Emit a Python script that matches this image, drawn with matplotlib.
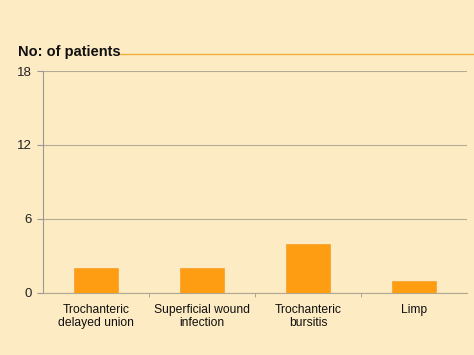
import matplotlib.pyplot as plt
from matplotlib.lines import Line2D

categories = ["Trochanteric\ndelayed union", "Superficial wound\ninfection",
              "Trochanteric\nbursitis", "Limp"]
patients = [2, 2, 4, 1]
yticks = [0, 6, 12, 18]

plt.rcParams['font.family'] = ['Liberation Sans', 'DejaVu Sans']

bg = '#fdebc3'
fig = plt.figure(figsize=(4.74, 3.55), dpi=100, facecolor=bg)
ax = fig.add_axes([0.091, 0.175, 0.894, 0.625], facecolor=bg)

x = range(len(categories))
ax.bar(x, patients, width=0.41, color='#ff9d12', edgecolor='#f7a535', linewidth=0.6, zorder=3)

ax.set_ylim(0, 18)
ax.set_xlim(-0.5, len(categories) - 0.5)
ax.set_yticks(yticks)
ax.set_yticklabels([str(v) for v in yticks], fontsize=9.5, color='#222222')
ax.set_xticks(list(x))
ax.set_xticklabels(categories, fontsize=8.7, color='#111111', linespacing=1.15)
ax.tick_params(axis='x', length=0, pad=8)
ax.tick_params(axis='y', length=4, color='#999999', pad=4)
# minor ticks between categories on the bottom axis
ax.set_xticks([i + 0.5 for i in range(len(categories) - 1)], minor=True)
ax.tick_params(axis='x', which='minor', length=3, color='#999999', direction='out')

ax.grid(axis='y', color='#b5ab96', linewidth=0.8, zorder=0)
for s in ['top', 'right']:
    ax.spines[s].set_visible(False)
ax.spines['left'].set_color('#999999')
ax.spines['bottom'].set_color('#b0a890')

fig.text(18 / 474, 1 - 52 / 355, "No: of patients", fontsize=10.5, fontweight='bold',
         va='center', ha='left', color='#111111')
fig.add_artist(Line2D([118 / 474, 1.0], [1 - 54 / 355, 1 - 54 / 355],
                      color='#f0b040', linewidth=1.0))

fig.savefig('out.png', dpi=100, facecolor=bg)
